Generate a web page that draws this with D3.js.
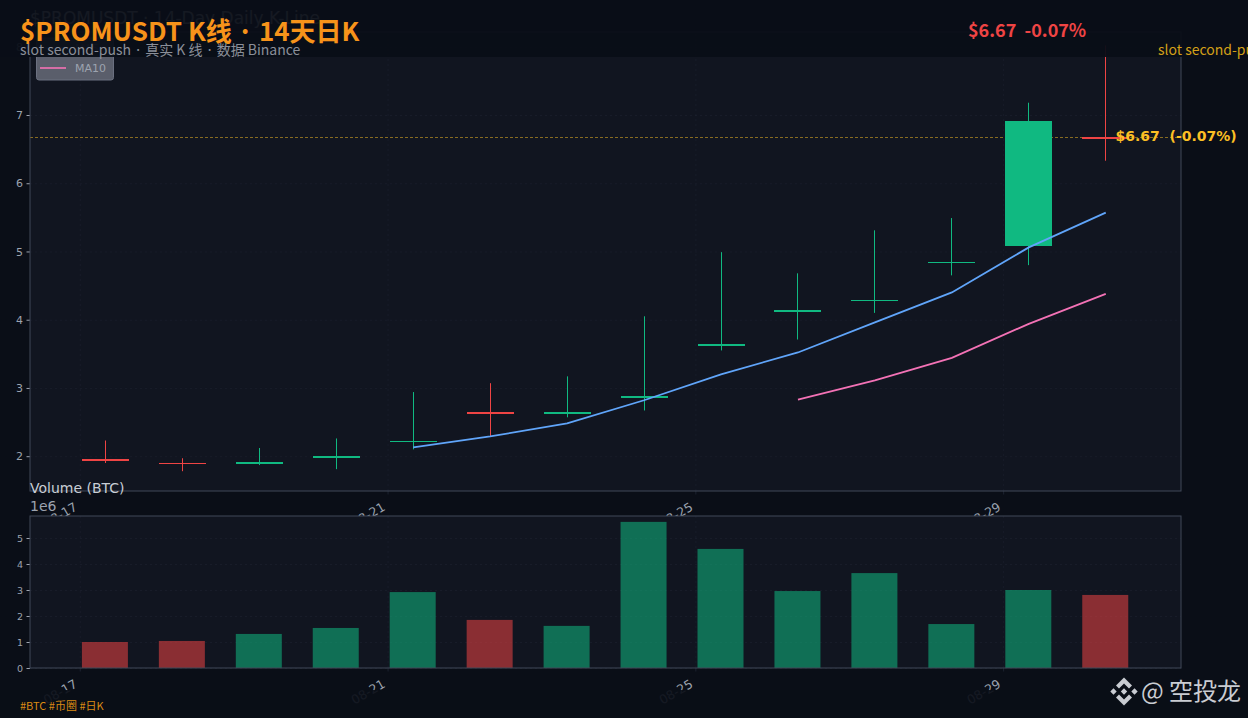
<!DOCTYPE html>
<html lang="en">
<head>
<meta charset="UTF-8">
<script src="https://d3js.org/d3.v7.min.js"></script>
<title>PROMUSDT</title>
<style>
  html, body { margin: 0; padding: 0; background: #0a0e17; overflow: hidden; }
  svg { display: block; }
  .cjk { font-family: "Noto Sans CJK JP", "Noto Sans", sans-serif; }
  .dj { font-family: "DejaVu Sans", sans-serif; }
  .axis text { font-family: "DejaVu Sans", sans-serif; fill: #9ca3af; }
  .axis line { stroke: #9ca3af; }
  .axis .domain { display: none; }
  .grid line { stroke: #2a3040; stroke-dasharray: 2 3; stroke-opacity: 0.28; }
  .grid .domain { display: none; }
</style>
</head>
<body>
<svg id="chart" width="1248" height="718"></svg>
<script>
const days = ["2025-08-17","2025-08-18","2025-08-19","2025-08-20","2025-08-21","2025-08-22","2025-08-23",
              "2025-08-24","2025-08-25","2025-08-26","2025-08-27","2025-08-28","2025-08-29","2025-08-30"];
const opens  = [1.96,1.90,1.89,1.98,2.21,2.645,2.615,2.855,3.62,4.12,4.27,4.83,5.08,6.68];
const closes = [1.93,1.89,1.92,2.01,2.22,2.615,2.645,2.885,3.65,4.14,4.29,4.84,6.91,6.655];
const highs  = [2.23,1.97,2.12,2.26,2.94,3.07,3.17,4.05,4.99,4.68,5.31,5.49,7.18,8.02];
const lows   = [1.90,1.78,1.87,1.81,2.10,2.29,2.57,2.67,3.55,3.71,4.10,4.65,4.80,6.33];
const volumes = [1.00,1.04,1.31,1.54,2.92,1.85,1.62,5.62,4.58,2.96,3.65,1.69,3.00,2.81];
const ma5  = [null,null,null,null,2.13,2.29,2.48,2.82,3.20,3.52,3.96,4.40,5.06,5.57];
const ma10 = [null,null,null,null,null,null,null,null,null,2.83,3.11,3.44,3.94,4.38];
const priceTicks = [2,3,4,5,6,7,8];
const volTicks = [0,1,2,3,4,5];
const dateTicks = ["2025-08-17","2025-08-21","2025-08-25","2025-08-29"];
const lastPrice = 6.67;

const UP = "#10b981", DOWN = "#ef4444";
const PANEL = "#111520", SPINE = "#414858";
const svg = d3.select("#chart");

const panelL = 30, panelR = 1181;
const priceTop = 32, priceBottom = 491, volTop = 516, volBottom = 668;

// candles open at 08:00 local, the ticks sit on midnight
const midnight = s => new Date(s + "T00:00:00Z");
const openTime = s => new Date(s + "T08:00:00Z");
const xDay = d3.scaleTime()
  .domain([midnight("2025-08-17"), midnight("2025-08-31")])
  .range([79.75, 79.75 + 14 * 76.95]);
const xTicks = dateTicks.map(midnight);
const fmt = d3.utcFormat("%m-%d");
const xWick = d => Math.floor(xDay(openTime(d))) + 0.5;

const yPrice = d3.scaleLinear().domain([2, 7]).range([456.2, 115]);
const yVol = d3.scaleLinear().domain([0, 5]).range([volBottom, 538]);

svg.append("rect").attr("width", 1248).attr("height", 718).attr("fill", "#0a0e17");

// ---- price panel
svg.append("rect").attr("x", panelL).attr("y", priceTop)
  .attr("width", panelR - panelL).attr("height", priceBottom - priceTop)
  .attr("fill", PANEL);

svg.append("text").attr("class", "dj").attr("x", 30).attr("y", 24)
  .attr("font-size", 17).attr("fill", "#e5e7eb").text("$PROMUSDT · 14-Day Daily K-Line");

svg.append("g").attr("class", "grid")
  .attr("transform", `translate(0,${priceBottom})`)
  .call(d3.axisBottom(xDay).tickValues(xTicks).tickSize(-(priceBottom - priceTop)).tickFormat(""));
svg.append("g").attr("class", "grid")
  .attr("transform", `translate(${panelL},0)`)
  .call(d3.axisLeft(yPrice).tickValues(priceTicks).tickSize(-(panelR - panelL)).tickFormat(""));

svg.append("g").attr("class", "axis")
  .attr("transform", `translate(${panelL},0)`)
  .call(d3.axisLeft(yPrice).tickValues(priceTicks).tickSize(3.5).tickPadding(3.5).tickFormat(d3.format("d")))
  .call(g => g.selectAll("text").attr("font-size", 11));

svg.append("g").attr("class", "axis")
  .attr("transform", `translate(0,${priceBottom})`)
  .call(d3.axisBottom(xDay).tickValues(xTicks).tickSize(3.5).tickFormat(fmt))
  .call(g => g.selectAll("text").attr("font-size", 12.5)
    .attr("text-anchor", "end").attr("transform", "rotate(-30) translate(-11,-0.3)"))
  .call(g => g.selectAll("line").style("stroke", "#1c2230"));

// last price line
svg.append("line").attr("x1", panelL).attr("x2", panelR)
  .attr("y1", yPrice(lastPrice)).attr("y2", yPrice(lastPrice))
  .attr("stroke", "#fbbf24").attr("stroke-opacity", 0.65)
  .attr("stroke-width", 0.8).attr("stroke-dasharray", "3 2");

// candles
const candles = svg.append("g").selectAll("g").data(days).join("g");
candles.append("line")
  .attr("x1", xWick).attr("x2", xWick)
  .attr("y1", (d, i) => yPrice(highs[i])).attr("y2", (d, i) => yPrice(lows[i]))
  .attr("stroke", (d, i) => closes[i] >= opens[i] ? UP : DOWN).attr("stroke-width", 1);
candles.append("rect")
  .attr("shape-rendering", "crispEdges")
  .attr("x", d => xDay(openTime(d)) - 23.5).attr("width", 47)
  .attr("y", (d, i) => yPrice(Math.max(opens[i], closes[i])))
  .attr("height", (d, i) => Math.max(1, Math.abs(yPrice(opens[i]) - yPrice(closes[i]))))
  .attr("fill", (d, i) => closes[i] >= opens[i] ? UP : DOWN);

const maLine = vals => d3.line()
  .defined((d, i) => vals[i] !== null)
  .x(d => xDay(openTime(d)))
  .y((d, i) => yPrice(vals[i]));
svg.append("path").attr("d", maLine(ma5)(days)).attr("fill", "none").attr("stroke", "#60a5fa").attr("stroke-width", 1.8);
svg.append("path").attr("d", maLine(ma10)(days)).attr("fill", "none").attr("stroke", "#f472b6").attr("stroke-width", 1.8);

svg.append("rect").attr("x", panelL).attr("y", priceTop)
  .attr("width", panelR - panelL).attr("height", priceBottom - priceTop)
  .attr("fill", "none").attr("stroke", SPINE);

// legend
const legend = svg.append("g");
legend.append("rect").attr("x", 36.5).attr("y", 38).attr("width", 77).attr("height", 42).attr("rx", 2.5)
  .attr("fill", "#5a5e6b").attr("stroke", "#6b7080");
legend.append("line").attr("x1", 40).attr("x2", 66).attr("y1", 48).attr("y2", 48).attr("stroke", "#60a5fa").attr("stroke-width", 1.6);
legend.append("text").attr("class", "dj").attr("x", 75).attr("y", 52).attr("font-size", 11).attr("fill", "#9ca3af").text("MA5");
legend.append("line").attr("x1", 40).attr("x2", 66).attr("y1", 68).attr("y2", 68).attr("stroke", "#f472b6").attr("stroke-width", 1.6);
legend.append("text").attr("class", "dj").attr("x", 75).attr("y", 72).attr("font-size", 11).attr("fill", "#9ca3af").text("MA10");

// ---- volume panel
svg.append("text").attr("class", "dj").attr("x", 30).attr("y", 492.5)
  .attr("font-size", 14).attr("fill", "#c9ced6").text("Volume (BTC)");
svg.append("text").attr("class", "dj").attr("x", 30).attr("y", 510.5)
  .attr("font-size", 14).attr("fill", "#9ca3af").text("1e6");

svg.append("rect").attr("x", panelL).attr("y", volTop)
  .attr("width", panelR - panelL).attr("height", volBottom - volTop)
  .attr("fill", PANEL);

svg.append("g").attr("class", "grid")
  .attr("transform", `translate(0,${volBottom})`)
  .call(d3.axisBottom(xDay).tickValues(xTicks).tickSize(-(volBottom - volTop)).tickFormat(""));
svg.append("g").attr("class", "grid")
  .attr("transform", `translate(${panelL},0)`)
  .call(d3.axisLeft(yVol).tickValues(volTicks).tickSize(-(panelR - panelL)).tickFormat(""));

svg.append("g").selectAll("rect").data(days).join("rect")
  .attr("x", d => xDay(openTime(d)) - 23.5).attr("width", 46)
  .attr("y", (d, i) => yVol(volumes[i]))
  .attr("height", (d, i) => yVol(0) - yVol(volumes[i]))
  .attr("fill", (d, i) => closes[i] >= opens[i] ? UP : DOWN)
  .attr("fill-opacity", 0.55);

svg.append("g").attr("class", "axis")
  .attr("transform", `translate(${panelL},0)`)
  .call(d3.axisLeft(yVol).tickValues(volTicks).tickSize(3.5).tickPadding(3.5).tickFormat(d3.format("d")))
  .call(g => g.selectAll("text").attr("font-size", 9.5));

svg.append("g").attr("class", "axis")
  .attr("transform", `translate(0,${volBottom})`)
  .call(d3.axisBottom(xDay).tickValues(xTicks).tickSize(3.5).tickFormat(fmt))
  .call(g => g.selectAll("text").attr("font-size", 12.5)
    .attr("text-anchor", "end").attr("transform", "rotate(-30) translate(-11,-0.3)"))
  .call(g => g.selectAll("line").style("stroke", "#1c2230"));

svg.append("rect").attr("x", panelL).attr("y", volTop)
  .attr("width", panelR - panelL).attr("height", volBottom - volTop)
  .attr("fill", "none").attr("stroke", SPINE);

svg.append("text").attr("class", "dj").attr("x", 1115.5).attr("y", 141)
  .attr("font-size", 14).attr("font-weight", "bold").attr("fill", "#fbbf24")
  .style("white-space", "pre").text("$6.67  (-0.07%)");

// ---- header and footer strips laid over the figure
svg.append("rect").attr("width", 1248).attr("height", 57).attr("fill", "#0a0e17").attr("fill-opacity", 0.95);
svg.append("rect").attr("y", 690).attr("width", 1248).attr("height", 28).attr("fill", "#0a0e17").attr("fill-opacity", 0.92);

svg.append("text").attr("class", "cjk").attr("x", 20).attr("y", 41)
  .attr("font-size", 26).attr("font-weight", 700).attr("fill", "#f7931a")
  .text("$PROMUSDT K线 · 14天日K");
svg.append("text").attr("class", "cjk").attr("x", 20).attr("y", 55)
  .attr("font-size", 14).attr("fill", "#8b8f99")
  .text("slot second-push · 真实 K 线 · 数据 Binance");
svg.append("text").attr("class", "cjk").attr("x", 968).attr("y", 37)
  .attr("font-size", 18).attr("font-weight", 700).attr("fill", "#ef4444")
  .style("white-space", "pre").text("$6.67  -0.07%");
svg.append("text").attr("class", "cjk").attr("x", 1158).attr("y", 55)
  .attr("font-size", 14).attr("fill", "#d4a017").text("slot second-push");
svg.append("text").attr("class", "cjk").attr("x", 20).attr("y", 710)
  .attr("font-size", 11).attr("fill", "#d98a14").text("#BTC #币圈 #日K");

// watermark
const logo = svg.append("g").attr("transform", "translate(1124,691.5)").attr("fill", "#c9ccd2");
logo.append("path").attr("d", "M0,-14 L8,-6 L5,-3 L0,-8 L-5,-3 L-8,-6 Z");
logo.append("path").attr("d", "M0,14 L8,6 L5,3 L0,8 L-5,3 L-8,6 Z");
logo.append("path").attr("d", "M0,-3.2 L3.2,0 L0,3.2 L-3.2,0 Z");
logo.append("path").attr("d", "M-10.5,-3.2 L-7.3,0 L-10.5,3.2 L-13.7,0 Z");
logo.append("path").attr("d", "M10.5,-3.2 L13.7,0 L10.5,3.2 L7.3,0 Z");
svg.append("text").attr("class", "cjk").attr("x", 1141).attr("y", 700)
  .attr("font-size", 24).attr("fill", "#c9ccd2").text("@ 空投龙");
</script>
</body>
</html>
